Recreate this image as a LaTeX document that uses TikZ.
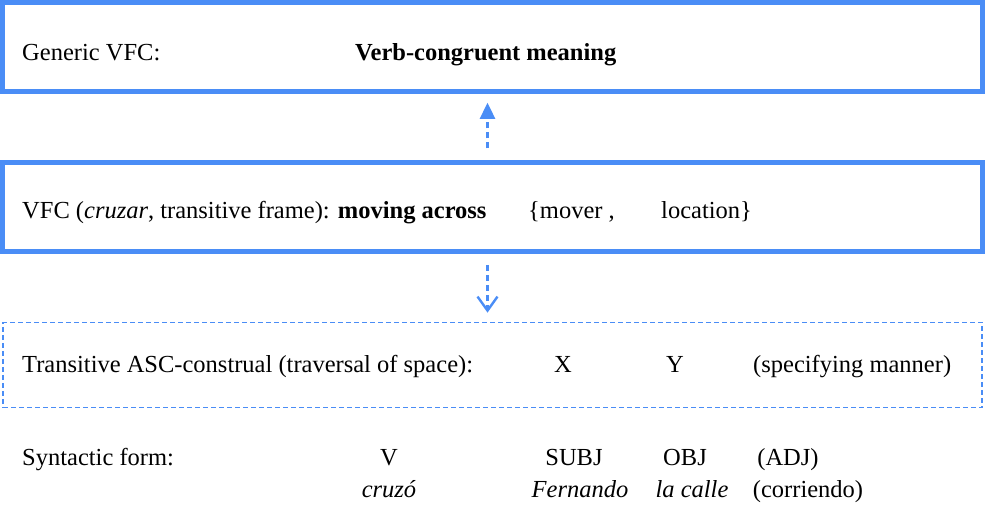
\documentclass[tikz,border=0pt]{standalone}
\usepackage{fontspec}
\setmainfont{Liberation Serif}
\usetikzlibrary{arrows.meta}
\definecolor{boxblue}{RGB}{74,141,246}
\tikzset{
  solidbox/.style={draw=boxblue, line width=4.5pt, minimum width=980pt, inner sep=0pt},
  dashbox/.style={draw=boxblue, line width=1.2pt, dash pattern=on 5pt off 3pt, minimum width=979pt, inner sep=0pt},
  lbl/.style={anchor=base west, inner sep=0pt, font=\fontsize{24.5pt}{28pt}\selectfont},
  clbl/.style={anchor=base, inner sep=0pt, font=\fontsize{24.5pt}{28pt}\selectfont},
  conn/.style={color=boxblue, line width=2.4pt, dash pattern=on 6pt off 4pt},
}
\begin{document}
\begin{tikzpicture}[x=1pt,y=-1pt]
\useasboundingbox (0,0) rectangle (985,504);
\node[solidbox, minimum height=89pt] (b1) at (492.5,47) {};
\node[solidbox, minimum height=89pt] (b2) at (492.5,207) {};
\node[dashbox, minimum height=85.5pt] (b3) at (492.5,365) {};

\node[lbl] (g1) at (22,60) {Generic VFC:};
\node[lbl] (g2) at (355,60) {\textbf{Verb-congruent meaning}};

\node[lbl] (v1) at (22,218) {VFC (\textit{cruzar}, transitive frame): \textbf{moving across}};
\node[lbl] (v2) at (528,218) {\{mover ,};
\node[lbl] (v3) at (661,218) {location\}};

\node[lbl] (t1) at (22,372) {Transitive ASC-construal (traversal of space):};
\node[clbl] (t2) at (563,372) {X};
\node[clbl] (t3) at (675,372) {Y};
\node[lbl] (t4) at (753,372) {(specifying manner)};

\node[lbl] (s1) at (22,465) {Syntactic form:};
\node[clbl] (s2) at (389,465) {V};
\node[clbl] (s3) at (574,465) {SUBJ};
\node[clbl] (s4) at (685,465) {OBJ};
\node[clbl] (s5) at (788,465) {(ADJ)};

\node[clbl] (e2) at (389,497) {\textit{cruzó}};
\node[clbl] (e3) at (580,497) {\textit{Fernando}};
\node[clbl] (e4) at (692,497) {\textit{la calle}};
\node[clbl] (e5) at (808,497) {(corriendo)};

\draw[conn, -{Triangle[length=16pt,width=15pt]}] ([xshift=-5pt,yshift=12pt]b2.north) -- ([xshift=-5pt,yshift=-9pt]b1.south);
\draw[conn, -{Straight Barb[length=14pt,width=20pt]}] ([xshift=-5pt,yshift=-11pt]b2.south) -- ([xshift=-5pt,yshift=9pt]b3.north);
\end{tikzpicture}
\end{document}
